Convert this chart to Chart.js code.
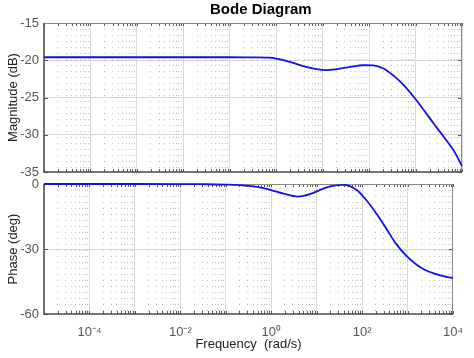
<!DOCTYPE html>
<html>
<head>
<meta charset="utf-8">
<script src="https://cdn.jsdelivr.net/npm/chart.js@4.4.1/dist/chart.umd.min.js"></script>
<style>
    body { margin: 0; background: #fff; }
    #wrap { position: relative; width: 474px; height: 358px; background: #fff; overflow: hidden; }
    #wrap canvas { position: absolute; left: 0; top: 0; }
    #title {
        position: absolute; left: 210px; width: 100px; top: 1px;
        text-align: center; white-space: nowrap;
        font: bold 15px 'Liberation Sans', Arial, sans-serif; line-height: 15px; color: #000;
    }
</style>
</head>
<body>
<div id="wrap">
    <canvas id="magChart" width="474" height="358"></canvas>
    <canvas id="phaseChart" width="474" height="358"></canvas>
    <div id="title">Bode Diagram</div>
</div>
<script>
// frequency points (rad/s)
const freqs = [1e-5, 1e-3, 0.01, 0.0316, 0.1, 0.316, 0.72, 1, 1.95, 3.8, 7.4, 12, 20, 39, 76,
    123, 204, 339, 550, 912, 1514, 2455, 4074, 6761, 10000];

// magnitude (dB)
const magnitude = [-19.6, -19.6, -19.6, -19.6, -19.6, -19.62, -19.66, -19.78, -20.22, -20.8, -21.2,
    -21.33, -21.2, -20.9, -20.67, -20.7, -21.1, -22.1, -23.3, -24.9, -26.7, -28.5, -30.3, -32.2, -34.2];

// phase (deg)
const phase = [0, 0, -0.05, -0.1, -0.3, -0.9, -2.0, -2.8, -4.6, -5.8, -4.6,
    -2.7, -1.1, -0.4, -2.8, -7.4, -13.5, -20.5, -27.4, -32.8, -36.9, -39.7, -41.5, -42.8, -43.4];

// axis ticks
const xTickValues = [1e-4, 1e-2, 1, 1e2, 1e4];
const xTickLabels = ['10\u207B\u2074', '10\u207B\u00B2', '10\u2070', '10\u00B2', '10\u2074'];
const magTicks = [-35, -30, -25, -20, -15];
const phaseTicks = [-60, -30, 0];

const FONT = "'Liberation Sans', Arial, sans-serif";
const LINE_COLOR = '#1212e6';

function isDecade(v) {
    const l = Math.log10(v);
    return Math.abs(l - Math.round(l)) < 1e-6;
}

// all 1..9 x 10^n positions for the log grid
function buildLogTicks(axis) {
    const ticks = [];
    for (let e = -5; e < 4; e++) {
        for (let k = 1; k < 10; k++) ticks.push({ value: k * Math.pow(10, e) });
    }
    ticks.push({ value: 1e4 });
    axis.ticks = ticks;
}

function xLabel(value) {
    const i = xTickValues.findIndex(v => Math.abs(Math.log10(v) - Math.log10(value)) < 1e-6);
    return i >= 0 ? xTickLabels[i] : '';
}

// frame round the plot area plus small inward tick marks (drawn under the curve)
const framePlugin = {
    id: 'frame',
    beforeDatasetsDraw(chart) {
        const { ctx, chartArea: a } = chart;
        const xs = chart.scales.x, ys = chart.scales.y;
        ctx.save();
        ctx.lineWidth = 1;
        ctx.strokeStyle = '#5a5a5a';
        ctx.beginPath();
        xs.ticks.forEach(t => {
            const px = Math.round(xs.getPixelForValue(t.value)) + 0.5;
            ctx.moveTo(px, a.bottom); ctx.lineTo(px, a.bottom - 3);
            ctx.moveTo(px, a.top); ctx.lineTo(px, a.top + 3);
        });
        ys.ticks.forEach(t => {
            const py = Math.round(ys.getPixelForValue(t.value)) + 0.5;
            ctx.moveTo(a.left, py); ctx.lineTo(a.left + 4, py);
            ctx.moveTo(a.right, py); ctx.lineTo(a.right - 4, py);
        });
        ctx.stroke();
        ctx.strokeStyle = '#8a8a8a';
        ctx.beginPath();
        ctx.moveTo(a.left, a.top + 0.5); ctx.lineTo(a.right - 0.5, a.top + 0.5); ctx.lineTo(a.right - 0.5, a.bottom);
        ctx.stroke();
        ctx.strokeStyle = '#4a4a4a';
        ctx.lineWidth = 1.5;
        ctx.beginPath();
        ctx.moveTo(a.left, a.top); ctx.lineTo(a.left, a.bottom); ctx.lineTo(a.right, a.bottom);
        ctx.stroke();
        ctx.restore();
    }
};

function makeOptions(cfg) {
    return {
        responsive: false,
        animation: false,
        layout: { padding: cfg.padding },
        plugins: { legend: { display: false }, tooltip: { enabled: false } },
        scales: {
            x: {
                type: 'logarithmic',
                min: 1e-5,
                max: 1e4,
                afterBuildTicks: buildLogTicks,
                afterFit: (s) => { s.height = cfg.xHeight; },
                border: {
                    display: false,
                    dash: (c) => (c.tick && !isDecade(c.tick.value)) ? [1, 5] : []
                },
                grid: {
                    drawTicks: false,
                    lineWidth: 1,
                    color: (c) => (c.tick && isDecade(c.tick.value)) ? '#dadada' : '#c2c2c2'
                },
                ticks: {
                    display: cfg.showX,
                    autoSkip: false,
                    maxRotation: 0,
                    padding: 11,
                    color: '#555',
                    font: { family: FONT, size: 13 },
                    callback: (v) => xLabel(v)
                },
                title: {
                    display: cfg.showX,
                    text: 'Frequency  (rad/s)',
                    color: '#222',
                    font: { family: FONT, size: 13 },
                    padding: { top: 0, bottom: 1 }
                }
            },
            y: {
                min: cfg.yTicks[0],
                max: cfg.yTicks[cfg.yTicks.length - 1],
                afterBuildTicks: (axis) => { axis.ticks = cfg.yTicks.map(v => ({ value: v })); },
                afterFit: (s) => { s.width = 44; },
                border: { display: false },
                grid: {
                    drawTicks: false,
                    color: (c) => (c.tick && c.tick.value > cfg.yTicks[0] && c.tick.value < cfg.yTicks[cfg.yTicks.length - 1]) ? '#d6d6d6' : 'rgba(0,0,0,0)'
                },
                ticks: {
                    padding: 5,
                    color: '#555',
                    font: { family: FONT, size: 13 }
                },
                title: {
                    display: true,
                    text: cfg.yTitle,
                    color: '#222',
                    font: { family: FONT, size: 13 },
                    padding: { top: 6, bottom: 0 }
                }
            }
        }
    };
}

function makeData(values) {
    return {
        datasets: [{
            data: freqs.map((f, i) => ({ x: f, y: values[i] })),
            borderColor: LINE_COLOR,
            borderWidth: 1.8,
            pointRadius: 0,
            cubicInterpolationMode: 'monotone',
            clip: 3,
            fill: false
        }]
    };
}

new Chart(document.getElementById('magChart'), {
    type: 'line',
    data: makeData(magnitude),
    options: makeOptions({
        padding: { top: 23, bottom: 186, left: 0, right: 12 },
        xHeight: 0,
        showX: false,
        yTicks: magTicks,
        yTitle: 'Magnitude (dB)'
    }),
    plugins: [framePlugin]
});

new Chart(document.getElementById('phaseChart'), {
    type: 'line',
    data: makeData(phase),
    options: makeOptions({
        padding: { top: 184, bottom: 5, left: 0, right: 12 },
        xHeight: 39,
        showX: true,
        yTicks: phaseTicks,
        yTitle: 'Phase (deg)'
    }),
    plugins: [framePlugin]
});
</script>
</body>
</html>
